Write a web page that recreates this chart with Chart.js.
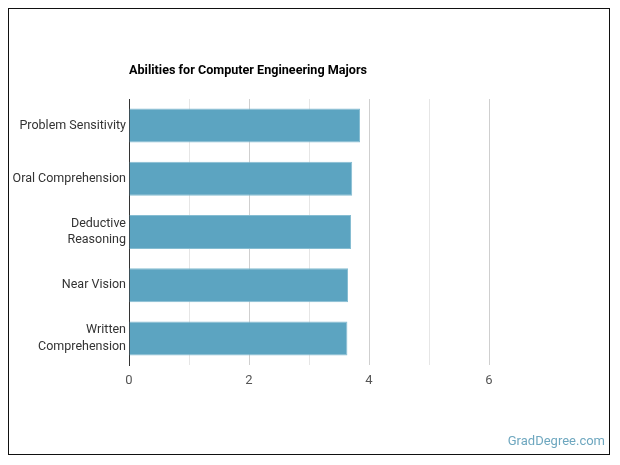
<!DOCTYPE html>
<html>
<head>
<meta charset="utf-8">
<script src="https://cdn.jsdelivr.net/npm/chart.js@4/dist/chart.umd.min.js"></script>
<style>
html,body{margin:0;padding:0;background:#fff;}
canvas{display:block;}
</style>
</head>
<body>
<canvas id="c" width="620" height="465"></canvas>
<script>
const chartTitle = 'Abilities for Computer Engineering Majors';
const categories = ['Problem Sensitivity', 'Oral Comprehension', ['Deductive', 'Reasoning'], 'Near Vision', ['Written', 'Comprehension']];
const values = [3.85, 3.72, 3.70, 3.65, 3.64];
const xTickLabels = ['0', '', '2', '', '4', '', '6'];
const watermark = 'GradDegree.com';

const FONT = 'Roboto, "Liberation Sans", Arial, sans-serif';

const overlay = {
  id: 'overlay',
  afterDraw(chart) {
    const ctx = chart.ctx;
    ctx.save();
    ctx.strokeStyle = '#111';
    ctx.lineWidth = 1;
    ctx.strokeRect(8.5, 8.5, 601, 446);
    ctx.fillStyle = '#000';
    ctx.font = 'bold 12.6px ' + FONT;
    ctx.textAlign = 'left';
    ctx.textBaseline = 'middle';
    ctx.fillText(chartTitle, chart.chartArea.left, 71);
    ctx.fillStyle = '#6ea7bf';
    ctx.font = '13px ' + FONT;
    ctx.textAlign = 'right';
    ctx.fillText(watermark, 605, 442);
    ctx.restore();
  }
};

new Chart(document.getElementById('c'), {
  type: 'bar',
  data: {
    labels: categories,
    datasets: [{
      data: values,
      backgroundColor: '#5ca4c1',
      borderColor: '#86bdd2',
      borderWidth: 1,
      categoryPercentage: 1,
      barPercentage: 0.64
    }]
  },
  options: {
    indexAxis: 'y',
    responsive: false,
    animation: false,
    layout: { padding: { left: 0, top: 99, right: 131, bottom: 0 } },
    plugins: { legend: { display: false }, tooltip: { enabled: false }, title: { display: false } },
    scales: {
      x: {
        min: 0, max: 6,
        afterFit(s) { s.height = 100; },
        border: { display: false },
        grid: {
          drawTicks: false,
          color: (c) => (c.tick && c.tick.value % 2 === 0) ? '#cfcfcf' : '#e6e6e6',
          lineWidth: 1
        },
        ticks: {
          stepSize: 1,
          padding: 8,
          color: '#555',
          font: { family: FONT, size: 13 },
          callback: (v, i) => xTickLabels[i] !== undefined ? xTickLabels[i] : ''
        }
      },
      y: {
        afterFit(s) { s.width = 129; },
        border: { display: true, color: '#333', width: 1 },
        grid: { display: false, drawTicks: false },
        ticks: {
          padding: 3,
          color: '#333',
          font: { family: FONT, size: 12.5, lineHeight: 1.3 }
        }
      }
    }
  },
  plugins: [overlay]
});
</script>
</body>
</html>
